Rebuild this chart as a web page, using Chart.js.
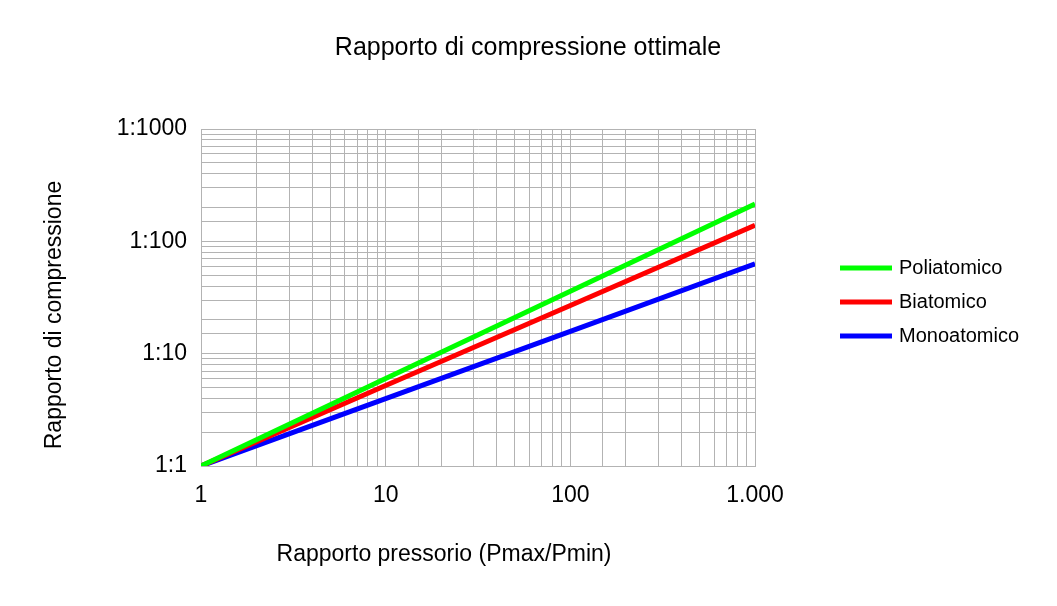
<!DOCTYPE html>
<html><head><meta charset="utf-8">
<script src="https://cdn.jsdelivr.net/npm/chart.js@4"></script>
<style>html,body{margin:0;background:#fff}#w{width:1057px;height:606px}</style>
</head><body><div id="w"><canvas id="c"></canvas></div>
<script>
const pressureRatio = [1, 10, 100, 1000];
const poliatomico = [1, 6.0, 35.9, 215];
const biatomico = [1, 5.2, 26.8, 139];
const monoatomico = [1, 3.98, 15.8, 63];
const yTickLabels = {1:'1:1',10:'1:10',100:'1:100',1000:'1:1000'};
const xTickLabels = {1:'1',10:'10',100:'100',1000:'1.000'};
const seriesNames = ['Poliatomico','Biatomico','Monoatomico'];
const colors = ['#00ff00','#ff0000','#0000ff'];
const chartTitle = 'Rapporto di compressione ottimale';
const xTitle = 'Rapporto pressorio (Pmax/Pmin)';
const yTitle = 'Rapporto di compressione';
const font = 'Liberation Sans';
const mk = (arr,i)=>({label:seriesNames[i],data:arr.map((v,k)=>({x:pressureRatio[k],y:v})),borderColor:colors[i],borderWidth:5,pointRadius:0,fill:false});
const textPlugin={id:'tx',afterDraw(ch){const c=ch.ctx;c.save();c.fillStyle='#000';c.textBaseline='middle';
c.font='20px "'+font+'"';
seriesNames.forEach((n,i)=>{const y=268+i*34;c.strokeStyle=colors[i];c.lineWidth=5;c.beginPath();c.moveTo(840,y);c.lineTo(892,y);c.stroke();c.fillText(n,899,y);});
c.textAlign='center';c.font='25px "'+font+'"';c.fillText(chartTitle,528,48);
c.font='23px "'+font+'"';c.fillText(xTitle,444,555);
c.translate(55,315);c.rotate(-Math.PI/2);c.fillText(yTitle,0,0);
c.restore();}};
const isPow=v=>Math.abs(Math.log10(v)-Math.round(Math.log10(v)))<1e-9;
new Chart(document.getElementById('c'),{type:'line',
data:{datasets:[mk(poliatomico,0),mk(biatomico,1),mk(monoatomico,2)]},
options:{responsive:true,maintainAspectRatio:false,animation:false,
layout:{padding:{left:30,right:302,top:129,bottom:20}},
plugins:{legend:{display:false},tooltip:{enabled:false},title:{display:false}},
scales:{
x:{type:'logarithmic',min:1,max:1000,afterFit:s=>{s.height=120;},
grid:{color:'#b3b3b3',drawTicks:false},border:{color:'#b3b3b3'},
ticks:{autoSkip:false,color:'#000',padding:16,font:{family:font,size:23},maxRotation:0,callback:v=>isPow(v)?xTickLabels[Math.round(v)]:''}},
y:{type:'logarithmic',min:1,max:1000,afterFit:s=>{s.width=171;},
grid:{color:'#b3b3b3',drawTicks:false},border:{color:'#b3b3b3'},
ticks:{autoSkip:false,color:'#000',padding:14,font:{family:font,size:23},callback:v=>isPow(v)?yTickLabels[Math.round(v)]:''}}}},
plugins:[textPlugin]});
</script></body></html>
